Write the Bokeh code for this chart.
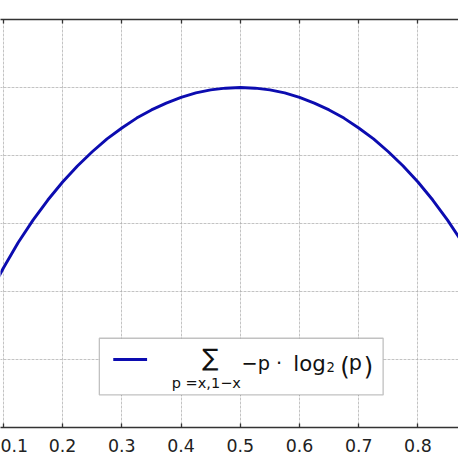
from bokeh.plotting import figure
from bokeh.models import Range1d, LinearAxis, FixedTicker, Grid, BoxAnnotation, Label
from bokeh.embed import file_html
from bokeh.resources import INLINE

# ---- data ----
x_vals = [0.08, 0.09, 0.10, 0.125, 0.15, 0.175, 0.20, 0.225, 0.25, 0.275, 0.30,
          0.325, 0.35, 0.375, 0.40, 0.425, 0.45, 0.475, 0.50, 0.525, 0.55, 0.575,
          0.60, 0.625, 0.65, 0.675, 0.70, 0.725, 0.75, 0.775, 0.80, 0.825, 0.85,
          0.875, 0.90]
y_vals = [0.402, 0.436, 0.469, 0.544, 0.610, 0.669, 0.722, 0.769, 0.811, 0.849, 0.881,
          0.910, 0.934, 0.954, 0.971, 0.984, 0.993, 0.998, 1.000, 0.998, 0.993, 0.984,
          0.971, 0.954, 0.934, 0.910, 0.881, 0.849, 0.811, 0.769, 0.722, 0.669, 0.610,
          0.544, 0.469]
x_ticks = [0.1, 0.2, 0.3, 0.4, 0.5, 0.6, 0.7, 0.8, 0.9]
y_grid = [0.2, 0.4, 0.6, 0.8, 1.0]
y_top = 1.2
legend_sum = "∑"
legend_sub = "p =x,1−x"
legend_main = "−p ·"
legend_log = "log"
legend_base = "2"
legend_lpar = "("
legend_arg = "p"
legend_rpar = ")"

S = 458 / 474.0
BLUE = "#0c0cb0"
AX = "#333333"
GRID = "#a0a0a0"


def dx(rx):
    return 0.1 + (rx - 3.0) / 612.9


def dy(ry):
    return (443.0 - ry) / 351.7


def fs(px):
    return "%.1fpx" % (px * S)


p = figure(width=458, height=458,
           x_range=Range1d(dx(0), dx(474)), y_range=Range1d(0, y_top),
           output_backend="svg", toolbar_location=None,
           x_axis_location=None, y_axis_location=None,
           min_border_left=0, min_border_right=0,
           min_border_top=19, min_border_bottom=31)
p.outline_line_color = None
p.background_fill_color = "white"
p.border_fill_color = "white"

common = dict(ticker=FixedTicker(ticks=x_ticks), major_tick_in=4, major_tick_out=0,
              minor_tick_line_color=None, axis_line_color=AX, axis_line_width=1.3,
              major_tick_line_color=AX, major_tick_line_width=1.3)
xb = LinearAxis(major_label_text_font="DejaVu Sans", major_label_text_font_size=fs(18),
                major_label_standoff=11, major_label_text_color="#222222", **common)
p.add_layout(xb, "below")
xa = LinearAxis(major_label_text_font_size="0px", major_label_standoff=0,
                major_label_text_alpha=0, **common)
p.add_layout(xa, "above")

p.add_layout(Grid(dimension=0, ticker=FixedTicker(ticks=x_ticks), grid_line_color=GRID,
                  grid_line_dash="1 3", grid_line_width=1))
p.add_layout(Grid(dimension=1, ticker=FixedTicker(ticks=y_grid), grid_line_color=GRID,
                  grid_line_dash="1 3", grid_line_width=1))

p.line(x_vals, y_vals, line_color=BLUE, line_width=2.9, line_join="round")

# ---- legend drawn by hand ----
box = BoxAnnotation(left=dx(102.3), right=dx(396), top=dy(350.7), bottom=dy(409.3),
                    fill_color="white", fill_alpha=1.0, line_color=AX, line_width=1.3,
                    line_dash="solid")
p.add_layout(box)
p.segment(x0=[dx(116.7)], y0=[dy(372.7)], x1=[dx(151.7)], y1=[dy(372.7)],
          line_color=BLUE, line_width=2.9, level="overlay")


def lab(text, rx, ry, size, align="left"):
    p.add_layout(Label(x=dx(rx), y=dy(ry), text=text, text_font="DejaVu Sans",
                       text_font_size=fs(size), text_align=align,
                       text_baseline="alphabetic", text_color="#111111"))


lab(legend_sum, 217, 371.5, 25, "center")
lab(legend_sub, 213, 397, 15, "center")
lab(legend_main, 249.5, 376.5, 20)
lab(legend_log, 303, 376.5, 22)
lab(legend_base, 337.5, 380, 13.7)
lab(legend_lpar, 351.5, 380, 25)
lab(legend_arg, 360.5, 376.5, 21.5)
lab(legend_rpar, 376, 380, 25)

open("out.html", "w").write(file_html(p, INLINE))
